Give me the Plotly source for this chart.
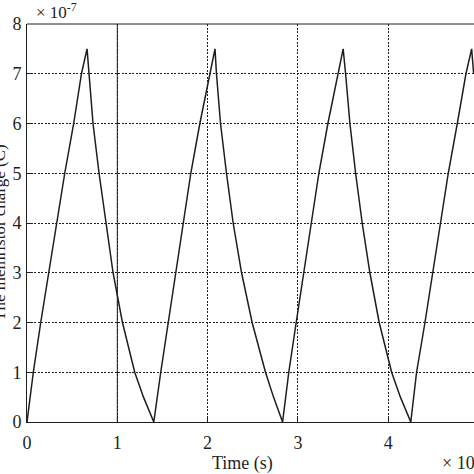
import plotly.graph_objects as go

# Memristor charge vs time, charge in units of 1e-7 C
time_s = [0.000, 0.070, 0.152, 0.240, 0.326, 0.418, 0.517, 0.603, 0.665,
          0.687, 0.731, 0.798, 0.872, 0.953, 1.057, 1.193, 1.290, 1.404,
          1.481, 1.563, 1.648, 1.729, 1.814, 1.914, 2.024, 2.082,
          2.098, 2.143, 2.209, 2.283, 2.376, 2.493, 2.641, 2.730, 2.830,
          2.899, 2.981, 3.066, 3.147, 3.232, 3.332, 3.441, 3.501,
          3.528, 3.576, 3.639, 3.712, 3.797, 3.900, 4.038, 4.135, 4.250,
          4.314, 4.407, 4.492, 4.573, 4.665, 4.765, 4.861, 4.924,
          4.946]
charge = [0, 1, 2, 3, 4, 5, 6, 7, 7.5,
          7, 6, 5, 4, 3, 2, 1, 0.5, 0,
          1, 2, 3, 4, 5, 6, 7, 7.5,
          7, 6, 5, 4, 3, 2, 1, 0.5, 0,
          1, 2, 3, 4, 5, 6, 7, 7.5,
          7, 6, 5, 4, 3, 2, 1, 0.5, 0,
          1, 2, 3, 4, 5, 6, 7, 7.5,
          7]

x_ticks = [0, 1, 2, 3, 4]
y_ticks = [0, 1, 2, 3, 4, 5, 6, 7, 8]

ink = "#1e1e1e"
serif = "Liberation Serif"

fig = go.Figure()
fig.add_trace(go.Scatter(x=time_s, y=charge, mode="lines",
                         line=dict(color=ink, width=1.5), showlegend=False))

axis_style = dict(showgrid=True, gridcolor=ink, gridwidth=1, griddash="2px,1.5px",
                  showline=True, linecolor=ink, linewidth=1, zeroline=False,
                  ticks="inside", ticklen=5, tickcolor=ink, automargin=False,
                  tickfont=dict(family=serif, size=18, color=ink))

fig.update_xaxes(range=[0, 4.95], tickvals=x_ticks, ticklabelstandoff=4, **axis_style)
fig.update_yaxes(range=[0, 8], tickvals=y_ticks, ticklabelstandoff=1, **axis_style)

# top border and the solid line at t = 1
fig.add_shape(type="line", xref="paper", yref="paper", x0=0, x1=1, y0=1, y1=1,
              line=dict(color=ink, width=1))
fig.add_shape(type="line", xref="x", yref="paper", x0=x_ticks[1], x1=x_ticks[1], y0=0, y1=1,
              line=dict(color=ink, width=1))

fig.add_annotation(text="× 10<sup>-7</sup>", xref="paper", yref="paper", x=0.015, y=1.0,
                   xanchor="left", yanchor="bottom", showarrow=False,
                   font=dict(family=serif, size=17, color=ink))
fig.add_annotation(text="× 10", xref="paper", yref="paper", x=0.924, y=-0.072,
                   xanchor="left", yanchor="top", showarrow=False,
                   font=dict(family=serif, size=18, color=ink))
fig.add_annotation(text="Time (s)", xref="paper", yref="paper", x=0.483, y=-0.072,
                   xanchor="center", yanchor="top", showarrow=False,
                   font=dict(family=serif, size=18, color=ink))
fig.add_annotation(text="The memristor charge (C)", xref="paper", yref="paper",
                   x=-0.063, y=0.477, textangle=-90, xanchor="center", yanchor="middle",
                   showarrow=False, font=dict(family=serif, size=17, color=ink))

fig.update_layout(width=474, height=474, margin=dict(l=27, r=0, t=24, b=52),
                  plot_bgcolor="white", paper_bgcolor="white")

fig.write_html("out.html", config={"displayModeBar": False},
               post_script="document.body.style.margin='0';")
